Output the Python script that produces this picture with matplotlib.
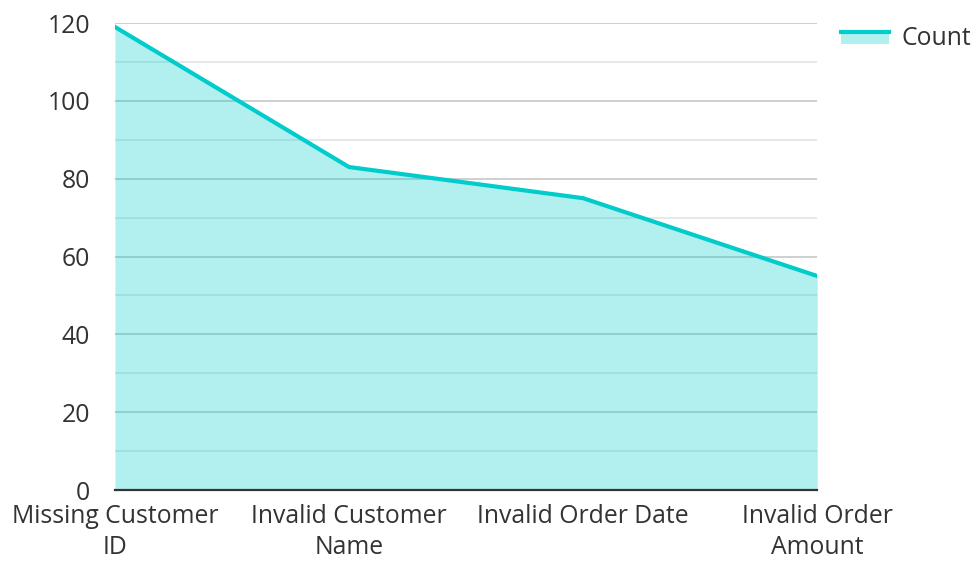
import matplotlib.pyplot as plt
from matplotlib.lines import Line2D
from matplotlib.patches import Rectangle
from matplotlib.legend_handler import HandlerBase
from matplotlib.ticker import MultipleLocator

plt.rcParams['font.family'] = ['Open Sans', 'DejaVu Sans']

categories = ["Missing Customer\nID", "Invalid Customer\nName", "Invalid Order Date", "Invalid Order\nAmount"]
counts = [119, 83, 75, 55]

lineColor = "#00cccc"
textColor = "#333333"
fontSize = 17.8


class AreaHandler(HandlerBase):
    # band with the line on its top edge, like the area legend key
    def create_artists(self, legend, orig, xd, yd, width, height, fontsize, trans):
        top = yd + height * 0.75
        rect = Rectangle((xd, yd + height * 0.05), width, top - yd - height * 0.05,
                         facecolor=lineColor, alpha=0.3, linewidth=0, transform=trans)
        line = Line2D([xd, xd + width], [top, top], color=lineColor,
                      linewidth=3, transform=trans)
        return [rect, line]


fig = plt.figure(figsize=(9.74, 5.62), dpi=100)
ax = fig.add_axes([0.118, 0.128, 0.721, 0.831])

x = list(range(len(categories)))
ax.fill_between(x, counts, 0, color=lineColor, alpha=0.3, linewidth=0, zorder=2)
ax.plot(x, counts, color=lineColor, linewidth=3, zorder=3)

ax.set_xlim(0, len(categories) - 1)
ax.set_ylim(0, 120)
ax.yaxis.set_major_locator(MultipleLocator(20))
ax.yaxis.set_minor_locator(MultipleLocator(10))
ax.grid(axis='y', which='major', color='#cccccc', linewidth=1.3, zorder=1)
ax.grid(axis='y', which='minor', color='#e6e6e6', linewidth=1.3, zorder=1)
ax.set_axisbelow(True)

ax.set_xticks(x)
ax.set_xticklabels(categories, fontsize=fontSize, color=textColor, linespacing=1.3)
ax.tick_params(axis='both', which='both', length=0, labelsize=fontSize, labelcolor=textColor)
ax.tick_params(axis='x', pad=10)
ax.tick_params(axis='y', pad=18)

for side in ['top', 'right', 'left']:
    ax.spines[side].set_visible(False)
ax.spines['bottom'].set_color(textColor)
ax.spines['bottom'].set_linewidth(1.6)
ax.spines['bottom'].set_zorder(4)

fig.legend([object()], ["Count"], handler_map={object: AreaHandler()},
           loc='upper right', bbox_to_anchor=(1.02, 0.993),
           frameon=False, fontsize=fontSize, labelcolor=textColor,
           handlelength=1.95, handletextpad=0.5)

fig.savefig("out.png", dpi=100)
